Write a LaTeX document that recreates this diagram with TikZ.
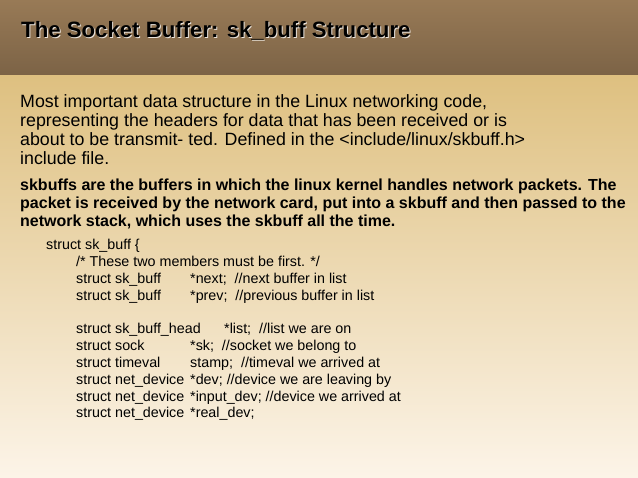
\documentclass[tikz,border=0pt]{standalone}
\usepackage{fontspec}
\setmainfont{Liberation Sans}
\begin{document}
\begin{tikzpicture}[x=1pt,y=-1pt,
 body/.style={anchor=base west,inner sep=0pt,font=\fontsize{17.8}{20}\selectfont},
 bold/.style={anchor=base west,inner sep=0pt,font=\fontsize{16}{19}\selectfont\bfseries},
 code/.style={anchor=base west,inner sep=0pt,font=\fontsize{14.3}{17}\selectfont}]
\definecolor{tt}{RGB}{152,122,86}\definecolor{tb}{RGB}{124,99,70}
\definecolor{bt}{RGB}{222,192,128}\definecolor{bb}{RGB}{252,244,232}
\useasboundingbox (0,0) rectangle (638,478);
\shade[top color=bt,bottom color=bb] (0,75) rectangle (638,478);
\shade[top color=tt,bottom color=tb] (0,0) rectangle (638,75);
\node[anchor=base west,inner sep=0pt,font=\fontsize{22.2}{26}\selectfont\bfseries,text=white!80!tt] (ts) at (22,39) {The Socket Buffer: sk\_buff Structure};
\node[anchor=base west,inner sep=0pt,font=\fontsize{22.2}{26}\selectfont\bfseries] (t) at (21,38) {The Socket Buffer: sk\_buff Structure};
\node[body] (p1) at (20,108) {Most important data structure in the Linux networking code,};
\node[body] (p2) at (20,127) {representing the headers for data that has been received or is};
\node[body] (p3) at (20,146) {about to be transmit- ted. Defined in the <include/linux/skbuff.h>};
\node[body] (p4) at (20,165) {include file.};
\node[bold] (b1) at (20,191) {skbuffs are the buffers in which the linux kernel handles network packets. The};
\node[bold] (b2) at (20,209) {packet is received by the network card, put into a skbuff and then passed to the};
\node[bold] (b3) at (20,227) {network stack, which uses the skbuff all the time.};
\node[code] (c0) at (46,250) {struct sk\_buff \{};
\node[code] (c1) at (76,267) {/* These two members must be first. */};
\node[code] (c2) at (76,284) {struct sk\_buff};\node[code] (d2) at (190,284) {*next;\ \ //next buffer in list};
\node[code] (c3) at (76,301) {struct sk\_buff};\node[code] (d3) at (190,301) {*prev;\ \ //previous buffer in list};
\node[code] (c5) at (76,334) {struct sk\_buff\_head};\node[code] (d5) at (224,334) {*list;\ \ //list we are on};
\node[code] (c6) at (76,351) {struct sock};\node[code] (d6) at (190,351) {*sk;\ \ //socket we belong to};
\node[code] (c7) at (76,368) {struct timeval};\node[code] (d7) at (190,368) {stamp;\ \ //timeval we arrived at};
\node[code] (c8) at (76,385) {struct net\_device};\node[code] (d8) at (190,385) {*dev; //device we are leaving by};
\node[code] (c9) at (76,402) {struct net\_device};\node[code] (d9) at (190,402) {*input\_dev; //device we arrived at};
\node[code] (c10) at (76,418) {struct net\_device};\node[code] (d10) at (190,418) {*real\_dev;};
\end{tikzpicture}
\end{document}
